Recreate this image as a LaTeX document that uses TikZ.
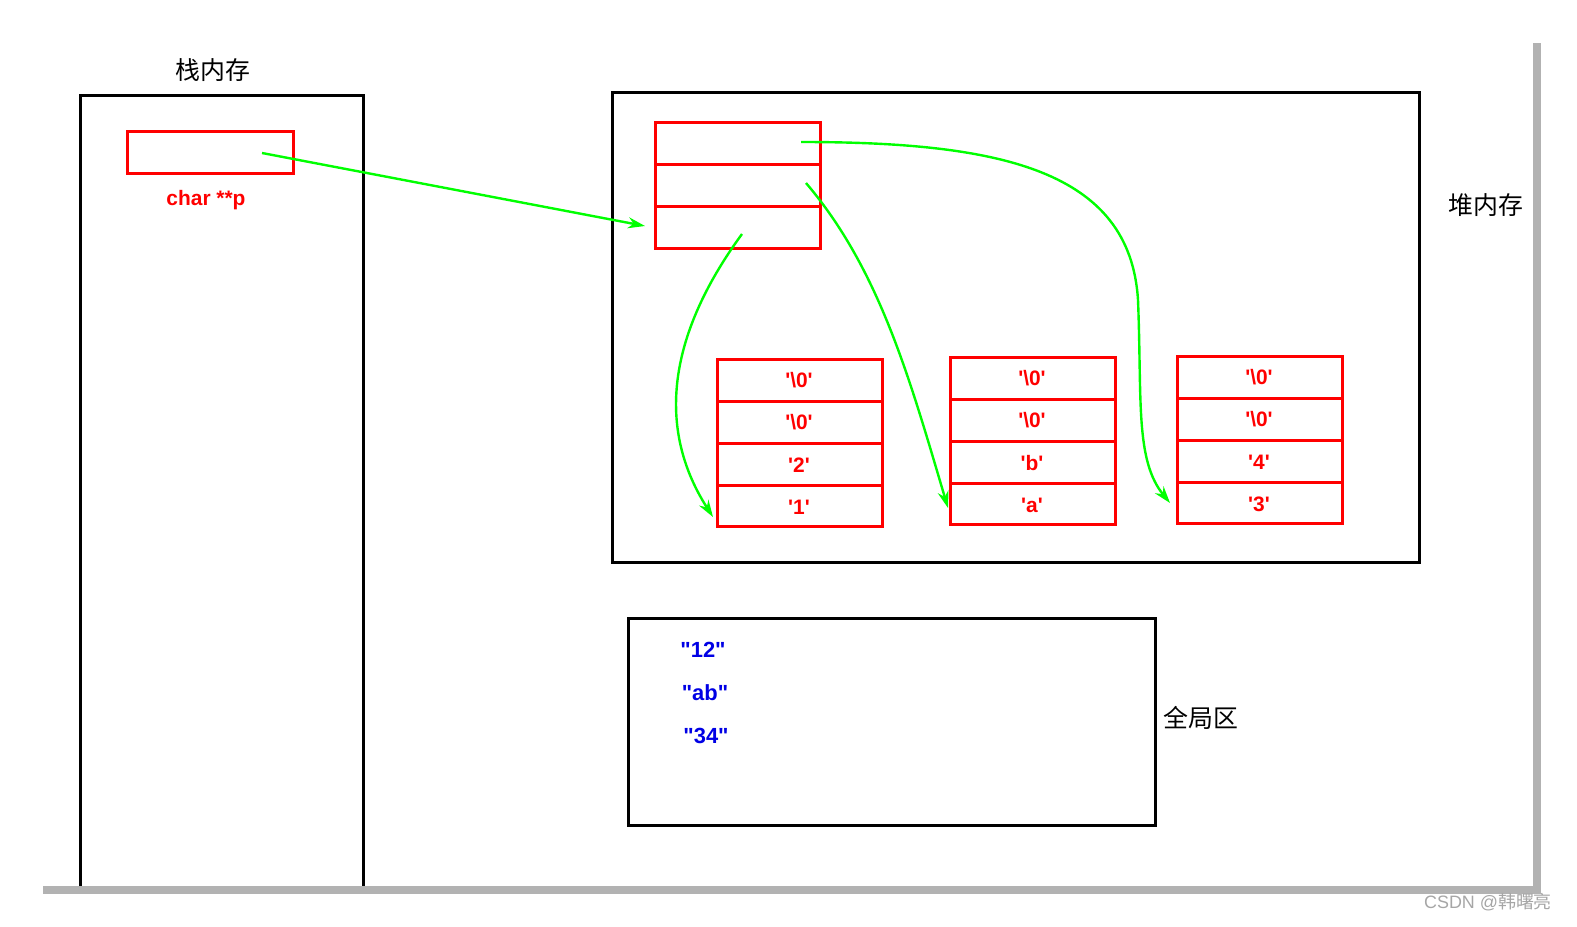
\documentclass[tikz,border=0pt]{standalone}
\usepackage{fontspec}
\setmainfont{Liberation Sans}[Ligatures=TeXOff]
\newfontfamily\cjk{Noto Sans CJK SC}
\usetikzlibrary{arrows.meta}
\begin{document}
\begin{tikzpicture}[x=1bp,y=-1bp,
  blk/.style={draw=black,line width=3bp},
  cell/.style={draw=red,line width=3bp},
  rtxt/.style={text=red,font=\fontsize{21}{23}\selectfont\bfseries},
  btxt/.style={text=blue!90!black,font=\fontsize{22}{24}\selectfont\bfseries},
  ctxt/.style={font=\fontsize{25}{27}\selectfont\cjk},
  garr/.style={draw=green,line width=2.4bp,-{Stealth[length=17bp,width=11bp]}}]
\useasboundingbox (0,0) rectangle (1577,926);
\fill[gray!60] (43,43) rectangle (1541,894);
\fill[white] (35,35) rectangle (1533,886);
% stack
\draw[blk] (80,886) -- (80,95) -- (363,95) -- (363,886);
\node[ctxt] (stk) at (213,70) {栈内存};
\draw[cell] (127,131) rectangle (293,173);
\node[rtxt] (p) at (206,200) {char **p};
\coordinate (ps) at (262,153);
% heap
\draw[blk] (612,92) rectangle (1419,562);
\node[ctxt] (heap) at (1486,205) {堆内存};
\foreach \y in {122,164,206} \draw[cell] (655,\y) rectangle (820,\y+42);
\coordinate (pa) at (645,226);
% arrays
\foreach \x/\y/\a/\b/\c/\d in {717/359/'\textbackslash0'/'\textbackslash0'/'2'/'1',950/357/'\textbackslash0'/'\textbackslash0'/'b'/'a',1177/356/'\textbackslash0'/'\textbackslash0'/'4'/'3'}{
  \draw[cell] (\x,\y) rectangle ++(165,42);
  \draw[cell] (\x,\y+42) rectangle ++(165,42);
  \draw[cell] (\x,\y+84) rectangle ++(165,42);
  \draw[cell] (\x,\y+126) rectangle ++(165,41);
  \node[rtxt] at (\x+82,\y+21) {\a};
  \node[rtxt] at (\x+82,\y+63) {\b};
  \node[rtxt] at (\x+82,\y+106) {\c};
  \node[rtxt] at (\x+82,\y+148) {\d};
}
% global
\draw[blk] (628,618) rectangle (1155,825);
\node[ctxt] (glob) at (1201,718) {全局区};
\node[btxt] (s1) at (703,650) {"12"};
\node[btxt] (s2) at (705,693) {"ab"};
\node[btxt] (s3) at (706,736) {"34"};
% arrows
\coordinate (a1) at (742,234); \coordinate (e1) at (713,517);
\coordinate (a2) at (806,183); \coordinate (e2) at (948,508);
\coordinate (a3) at (801,142); \coordinate (e3) at (1170,503);
\draw[garr] (ps) -- (pa);
\draw[garr] (a1) .. controls (650,360) and (670,450) .. (e1);
\draw[garr] (a2) .. controls (880,270) and (910,380) .. (e2);
\draw[garr] (a3) .. controls (1000,142) and (1130,170) .. (1138,300) .. controls (1142,400) and (1135,460) .. (e3);
\node[text=gray!70,font=\fontsize{18}{20}\selectfont] (wm) at (1488,902) {CSDN @{\cjk 韩曙亮}};
\end{tikzpicture}
\end{document}
